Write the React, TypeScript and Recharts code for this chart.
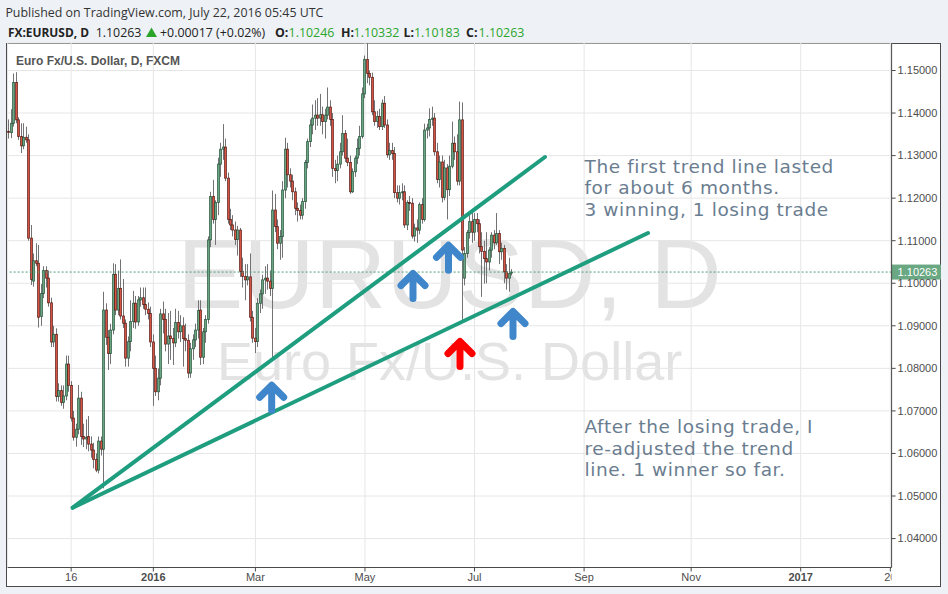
import React from "react";
import {
  ComposedChart,
  Bar,
  XAxis,
  YAxis,
  CartesianGrid,
  ReferenceLine,
  ReferenceDot,
} from "recharts";

// [open, high, low, close], one row per trading day
type Ohlc = [number, number, number, number];

const oct2015: Ohlc[] = [
  [1.1357, 1.1385, 1.134, 1.1355],
  [1.1354, 1.1409, 1.1341, 1.1376],
  [1.1376, 1.1493, 1.1368, 1.1472],
  [1.1472, 1.1496, 1.1376, 1.1384],
  [1.1384, 1.139, 1.1337, 1.1345],
  [1.1345, 1.1376, 1.1306, 1.1323],
  [1.1323, 1.1376, 1.1315, 1.1343],
  [1.1343, 1.1368, 1.133, 1.1337],
  [1.1337, 1.135, 1.11, 1.1106],
  [1.1106, 1.1137, 1.0996, 1.1009],
  [1.1005, 1.107, 1.0992, 1.1053],
  [1.1053, 1.1094, 1.104, 1.1047],
  [1.1047, 1.109, 1.0896, 1.092],
  [1.0922, 1.0998, 1.09, 1.0976],
  [1.0976, 1.104, 1.0965, 1.103],
];

const nov2015: Ohlc[] = [
  [1.103, 1.104, 1.099, 1.1012],
  [1.1012, 1.103, 1.0945, 1.0954],
  [1.0954, 1.0966, 1.085, 1.0862],
  [1.0862, 1.09, 1.085, 1.088],
  [1.088, 1.0894, 1.0722, 1.0734],
  [1.0734, 1.0765, 1.0722, 1.0748],
  [1.0748, 1.076, 1.0712, 1.072],
  [1.072, 1.076, 1.0705, 1.0735],
  [1.0735, 1.083, 1.0725, 1.081],
  [1.081, 1.083, 1.0745, 1.076],
  [1.076, 1.077, 1.0675, 1.0683],
  [1.0683, 1.07, 1.063, 1.0638],
  [1.0638, 1.067, 1.0616, 1.0657],
  [1.0657, 1.0761, 1.0645, 1.073],
  [1.073, 1.0745, 1.062, 1.064],
  [1.064, 1.067, 1.0615, 1.0634],
  [1.0634, 1.068, 1.061, 1.0638],
  [1.064, 1.0688, 1.0605, 1.0622],
  [1.0622, 1.064, 1.059, 1.0608],
  [1.0608, 1.0625, 1.0565, 1.0586],
  [1.0586, 1.06, 1.0556, 1.0561],
];

const dec2015: Ohlc[] = [
  [1.0561, 1.064, 1.0553, 1.0629],
  [1.0629, 1.064, 1.0595, 1.061],
  [1.061, 1.098, 1.0518, 1.0937],
  [1.0937, 1.0953, 1.0855, 1.0873],
  [1.0873, 1.089, 1.0796, 1.0835],
  [1.0835, 1.0905, 1.081, 1.089],
  [1.089, 1.1047, 1.088, 1.1021],
  [1.1021, 1.1045, 1.0925, 1.0937],
  [1.0937, 1.103, 1.0925, 1.0988],
  [1.0988, 1.1056, 1.0915, 1.0923],
  [1.0923, 1.101, 1.0895, 1.0906],
  [1.0906, 1.0915, 1.0804, 1.0824],
  [1.0824, 1.0875, 1.0804, 1.0863],
  [1.0863, 1.096, 1.084, 1.091],
  [1.091, 1.0982, 1.0895, 1.0953],
  [1.0953, 1.097, 1.0893, 1.0909],
  [1.0909, 1.097, 1.09, 1.0961],
  [1.0961, 1.099, 1.0945, 1.0966],
  [1.0966, 1.099, 1.094, 1.095],
  [1.095, 1.099, 1.0925, 1.0939],
  [1.0939, 1.0955, 1.0915, 1.0929],
  [1.0929, 1.0945, 1.085, 1.0862],
];

const jan2016: Ohlc[] = [
  [1.0862, 1.088, 1.0712, 1.08],
  [1.08, 1.083, 1.0735, 1.0745],
  [1.0745, 1.08, 1.0725, 1.0777],
  [1.0777, 1.094, 1.076, 1.0928],
  [1.0928, 1.0957, 1.0882, 1.0915],
  [1.0915, 1.094, 1.084, 1.0857],
  [1.0857, 1.093, 1.081, 1.0876],
  [1.0876, 1.0935, 1.082, 1.087],
  [1.087, 1.0895, 1.0808, 1.086],
  [1.086, 1.094, 1.085, 1.0908],
  [1.0908, 1.0935, 1.087, 1.0886],
  [1.0886, 1.0925, 1.0862, 1.09],
  [1.09, 1.092, 1.0804, 1.087],
  [1.087, 1.0905, 1.084, 1.0866],
  [1.0866, 1.088, 1.0777, 1.0789],
  [1.0789, 1.086, 1.0778, 1.0846],
  [1.0846, 1.088, 1.082, 1.0867],
  [1.0867, 1.0905, 1.085, 1.089],
  [1.089, 1.096, 1.087, 1.0936],
  [1.0937, 1.096, 1.0808, 1.0826],
];

const feb2016: Ohlc[] = [
  [1.0826, 1.0895, 1.081, 1.0886],
  [1.0886, 1.0925, 1.086, 1.0915],
  [1.0915, 1.111, 1.0905, 1.1102],
  [1.1102, 1.1215, 1.1085, 1.1204],
  [1.1204, 1.1243, 1.114, 1.115],
  [1.115, 1.1195, 1.109, 1.119],
  [1.119, 1.1295, 1.116, 1.128],
  [1.128, 1.133, 1.125, 1.1315],
  [1.1315, 1.1374, 1.129, 1.132],
  [1.132, 1.134, 1.124, 1.1247],
  [1.1247, 1.126, 1.114, 1.115],
  [1.115, 1.1175, 1.1125, 1.1137],
  [1.1137, 1.116, 1.111, 1.1125],
  [1.1125, 1.1145, 1.109, 1.1103],
  [1.1103, 1.1135, 1.1065, 1.1125],
  [1.1125, 1.113, 1.1015, 1.1028],
  [1.1028, 1.106, 1.099, 1.1016],
  [1.1016, 1.1045, 1.096, 1.1008],
  [1.1008, 1.1045, 1.0995, 1.1015],
  [1.1015, 1.107, 1.091, 1.092],
  [1.092, 1.0935, 1.086, 1.0871],
];

const mar2016: Ohlc[] = [
  [1.0871, 1.0895, 1.0836, 1.0863],
  [1.0863, 1.0965, 1.085, 1.0953],
  [1.0953, 1.0985, 1.093, 1.0975],
  [1.0975, 1.102, 1.094, 1.1008],
  [1.1008, 1.104, 1.0975, 1.1012],
  [1.1012, 1.1045, 1.0985, 1.1005],
  [1.1005, 1.103, 1.097, 1.0988],
  [1.0988, 1.1218, 1.0822, 1.1172],
  [1.1172, 1.121, 1.112, 1.1133],
  [1.1133, 1.115, 1.108, 1.1094],
  [1.1094, 1.1125, 1.1055, 1.111],
  [1.111, 1.124, 1.106, 1.1219],
  [1.1219, 1.1342, 1.12, 1.1315],
  [1.1315, 1.133, 1.1225, 1.1255],
  [1.1255, 1.127, 1.1225, 1.124],
  [1.124, 1.1255, 1.1195, 1.1215],
  [1.1215, 1.1225, 1.116, 1.1176],
  [1.1176, 1.119, 1.1145, 1.1171],
  [1.1171, 1.1185, 1.115, 1.116],
  [1.116, 1.12, 1.115, 1.1192],
  [1.1192, 1.129, 1.1175, 1.1284],
  [1.1284, 1.134, 1.127, 1.1333],
  [1.1333, 1.1385, 1.132, 1.1372],
];

const apr2016: Ohlc[] = [
  [1.1372, 1.142, 1.135, 1.1388],
  [1.1388, 1.143, 1.136, 1.1395],
  [1.1395, 1.1435, 1.137, 1.1388],
  [1.1388, 1.1445, 1.137, 1.1396],
  [1.1396, 1.1415, 1.135, 1.138],
  [1.138, 1.141, 1.134, 1.1395],
  [1.1395, 1.146, 1.1385, 1.1414],
  [1.1414, 1.143, 1.137, 1.1385],
  [1.1385, 1.14, 1.125, 1.127],
  [1.127, 1.129, 1.1235, 1.1265],
  [1.1265, 1.13, 1.124, 1.128],
  [1.128, 1.133, 1.127, 1.1309],
  [1.1309, 1.1395, 1.13, 1.1352],
  [1.1352, 1.136, 1.1285, 1.1294],
  [1.1294, 1.134, 1.1275, 1.1284],
  [1.1284, 1.13, 1.121, 1.1215],
  [1.1215, 1.127, 1.1212, 1.1262],
  [1.1262, 1.13, 1.125, 1.1294],
  [1.1294, 1.134, 1.128, 1.1317],
  [1.1317, 1.137, 1.13, 1.1345],
  [1.1345, 1.146, 1.134, 1.1445],
];

const may2016: Ohlc[] = [
  [1.1445, 1.1535, 1.1435, 1.1526],
  [1.1526, 1.1616, 1.147, 1.1493],
  [1.1493, 1.15, 1.1465, 1.1484],
  [1.1484, 1.1495, 1.1395, 1.1403],
  [1.1403, 1.143, 1.137, 1.138],
  [1.138, 1.1405, 1.1365, 1.1392],
  [1.1392, 1.141, 1.136, 1.1368],
  [1.1368, 1.1432, 1.136, 1.1423],
  [1.1423, 1.144, 1.1365, 1.1372],
  [1.1372, 1.1385, 1.1295, 1.1302],
  [1.1302, 1.133, 1.129, 1.1312],
  [1.1312, 1.133, 1.129, 1.1305],
  [1.1305, 1.132, 1.12, 1.1213],
  [1.1213, 1.123, 1.119, 1.12],
  [1.12, 1.123, 1.1185, 1.1213],
  [1.1213, 1.1235, 1.1195, 1.1215],
  [1.1215, 1.123, 1.113, 1.1137],
  [1.1137, 1.1195, 1.1125, 1.119],
  [1.119, 1.1205, 1.117, 1.1188],
  [1.1188, 1.12, 1.1105, 1.1111],
  [1.1111, 1.114, 1.1098, 1.113],
  [1.113, 1.115, 1.1095, 1.1125],
];

const jun2016: Ohlc[] = [
  [1.1125, 1.119, 1.1115, 1.1185],
  [1.1185, 1.12, 1.114, 1.115],
  [1.115, 1.1375, 1.1145, 1.136],
  [1.136, 1.1375, 1.134, 1.1365],
  [1.1365, 1.1411, 1.1345, 1.1385],
  [1.1385, 1.1415, 1.137, 1.1388],
  [1.1388, 1.14, 1.13, 1.1309],
  [1.1309, 1.133, 1.1235, 1.1244],
  [1.1244, 1.13, 1.1225, 1.1285],
  [1.1285, 1.13, 1.119, 1.1202],
  [1.1202, 1.129, 1.1195, 1.1271],
  [1.1271, 1.128, 1.115, 1.122],
  [1.122, 1.13, 1.1205, 1.1275],
  [1.1275, 1.138, 1.127, 1.1329],
  [1.1329, 1.1345, 1.129, 1.1309],
  [1.1309, 1.135, 1.123, 1.124],
  [1.124, 1.1427, 1.123, 1.1384],
  [1.1384, 1.1425, 1.0912, 1.1078],
  [1.1012, 1.1085, 1.0995, 1.107],
  [1.107, 1.1125, 1.106, 1.1119],
  [1.1119, 1.116, 1.1105, 1.1145],
  [1.1145, 1.1165, 1.1095, 1.112],
];

const jul2016: Ohlc[] = [
  [1.112, 1.1165, 1.11, 1.115],
  [1.115, 1.1165, 1.112, 1.114],
  [1.114, 1.115, 1.107, 1.1086],
  [1.1086, 1.112, 1.0968, 1.1075],
  [1.1075, 1.11, 1.0999, 1.1058],
  [1.1058, 1.112, 1.1, 1.105],
  [1.105, 1.1085, 1.103, 1.1078],
  [1.1078, 1.112, 1.106, 1.1113],
  [1.1113, 1.1125, 1.108, 1.1095],
  [1.1095, 1.1165, 1.109, 1.1117],
  [1.1117, 1.1125, 1.1045, 1.1074],
  [1.1074, 1.1095, 1.1055, 1.1082],
  [1.1082, 1.109, 1.1, 1.1027],
  [1.1027, 1.1045, 1.0985, 1.1012],
  [1.1012, 1.106, 1.098, 1.1023],
  [1.10246, 1.10332, 1.10183, 1.10263],
];

const candles: Ohlc[] = [
  ...oct2015, ...nov2015, ...dec2015, ...jan2016, ...feb2016,
  ...mar2016, ...apr2016, ...may2016, ...jun2016, ...jul2016,
];

// trading-day slots on the time scale, the rest is empty future space
const SLOTS = 355;

const tickIdx = [25, 58, 99, 143, 187, 231, 274, 318, 354];
const tickLabels = ["16", "2016", "Mar", "May", "Jul", "Sep", "Nov", "2017", "20"];
const boldLabels = ["2016", "2017"];

const priceTicks = [1.04, 1.05, 1.06, 1.07, 1.08, 1.09, 1.1, 1.11, 1.12, 1.13, 1.14, 1.15];
const priceDomain = [1.0332, 1.15646];
const lastPrice = 1.10263;

// drawings: bar position (fractional) + price
const trendStart = { idx: 25.62, price: 1.04725 };
const trendEnds = [
  { idx: 215.3, price: 1.12967 },
  { idx: 256.67, price: 1.11181 },
];
const arrows = [
  { idx: 105.54, price: 1.07686, color: "#3f86cb" },
  { idx: 162.29, price: 1.10311, color: "#3f86cb" },
  { idx: 176.55, price: 1.10976, color: "#3f86cb" },
  { idx: 202.45, price: 1.09418, color: "#3f86cb" },
  { idx: 181.16, price: 1.08713, color: "#ff0000" },
];

const note1 = ["The first trend line lasted", "for about 6 months.", "3 winning, 1 losing trade"];
const note2 = ["After the losing trade, I", "re-adjusted the trend", "line. 1 winner so far."];

const rows = Array.from({ length: SLOTS }, (_, i) => {
  const c = candles[i];
  return c ? { idx: i, open: c[0], high: c[1], low: c[2], close: c[3] } : { idx: i };
});

const UP = "#6ba583";
const DOWN = "#d75442";
const UP_BORDER = "#225437";
const DOWN_BORDER = "#5b1a13";
const TEAL = "#1f9d7f";
const AXIS_TEXT = "#4d4d4d";
const HEAD_GREEN = "#2aa52a";

function Candle(props: any) {
  const { x, y, width, height, payload } = props;
  if (!payload || payload.high == null || !isFinite(y) || !isFinite(height)) return <g />;
  const { open, high, low, close } = payload;
  const span = high - low;
  const ppu = span > 0 ? height / span : 0;
  const cx = Math.round(x + width / 2 - 0.5) + 0.5;
  const yO = y + (high - open) * ppu;
  const yC = y + (high - close) * ppu;
  const up = close >= open;
  const top = Math.min(yO, yC);
  const bh = Math.max(Math.abs(yC - yO), 1);
  return (
    <g>
      <line x1={cx} x2={cx} y1={y} y2={y + height} stroke="#737375" strokeWidth={1} />
      <rect x={cx - 1.3} y={top - 0.4} width={2.6} height={bh + 0.8} fill={up ? UP_BORDER : DOWN_BORDER} />
      {bh > 1.2 && (
        <rect x={cx - 0.6} y={top + 0.4} width={1.2} height={bh - 0.8} fill={up ? UP : DOWN} />
      )}
    </g>
  );
}

function TimeTick(props: any) {
  const { x, y, payload } = props;
  const k = tickIdx.indexOf(Number(payload.value));
  if (k < 0) return <g />;
  const label = tickLabels[k];
  return (
    <g>
      <defs>
        <clipPath id={`tclip${k}`}>
          <rect x={0} y={0} width={891.6} height={594} />
        </clipPath>
      </defs>
      <text
        x={x}
        y={y}
        dy="0.71em"
        textAnchor="middle"
        fontSize={11}
        fontFamily="Arial, 'Liberation Sans', sans-serif"
        fontWeight={boldLabels.includes(label) ? 700 : 400}
        fill={AXIS_TEXT}
        clipPath={`url(#tclip${k})`}
      >
        {label}
      </text>
    </g>
  );
}

function PriceTag(props: any) {
  const vb = props.viewBox;
  if (!vb) return null;
  const x = vb.x + vb.width;
  return (
    <g>
      <rect x={x} y={vb.y - 7.5} width={49.4} height={15} fill="#6aa783" />
      <text x={x + 6} y={vb.y + 4} fill="#ffffff" fontSize={11} fontFamily="Arial, 'Liberation Sans', sans-serif">
        {lastPrice.toFixed(5)}
      </text>
    </g>
  );
}

function Arrow(props: any) {
  const { cx, cy, fill } = props;
  const ty = cy + 3.5;
  return (
    <path
      d={`M${cx - 12},${ty + 12} L${cx},${ty} L${cx + 12},${ty + 12} M${cx},${ty + 1} L${cx},${ty + 25}`}
      stroke={fill}
      strokeWidth={7}
      strokeLinecap="round"
      strokeLinejoin="round"
      fill="none"
    />
  );
}

function Note({ lines, y }: { lines: string[]; y: number }) {
  return (
    <g fontFamily="'DejaVu Sans', Verdana, sans-serif" fontSize={18.5} letterSpacing={0.6} fill="#6a7d90">
      {lines.map((t, k) => (
        <text key={k} x={584.5} y={y + k * 21.5}>
          {t}
        </text>
      ))}
    </g>
  );
}

export default function App() {
  return (
    <div style={{ position: "relative", width: 948, height: 594, background: "#eef2f6", overflow: "hidden" }}>
      <style>{`body{margin:0}`}</style>

      <svg width={948} height={594} style={{ position: "absolute", left: 0, top: 0 }}>
        <rect x={6.5} y={43.5} width={934} height={543} fill="#ffffff" stroke="#4a4a4a" strokeWidth={1} />
        <text x={449.6} y={308} textAnchor="middle" fontSize={99} fontFamily="Arial, 'Liberation Sans', sans-serif" fill="#e3e3e3">
          EURUSD, D
        </text>
        <text x={449.6} y={380} textAnchor="middle" fontSize={54} fontFamily="Arial, 'Liberation Sans', sans-serif" fill="#e3e3e3">
          Euro Fx/U.S. Dollar
        </text>
      </svg>

      <div style={{ position: "absolute", left: 0, top: 0 }}>
        <ComposedChart
          width={948}
          height={594}
          data={rows}
          margin={{ top: 43, right: 7, bottom: 6.5, left: 7.65 }}
        >
          <CartesianGrid stroke="#e6e6e6" strokeWidth={1} />
          <XAxis
            dataKey="idx"
            type="category"
            ticks={tickIdx}
            interval={0}
            height={20}
            tickSize={4}
            axisLine={{ stroke: "#4a4a4a" }}
            tickLine={{ stroke: "#4a4a4a" }}
            tick={<TimeTick />}
          />
          <XAxis xAxisId="n" dataKey="idx" type="number" domain={[-0.5, SLOTS - 0.5]} allowDataOverflow hide />
          <YAxis
            orientation="right"
            type="number"
            domain={priceDomain}
            allowDataOverflow
            ticks={priceTicks}
            interval={0}
            width={49.4}
            tickSize={4}
            axisLine={{ stroke: "#4a4a4a" }}
            tickLine={{ stroke: "#4a4a4a" }}
            tick={{ fill: AXIS_TEXT, fontSize: 11, fontFamily: "Arial, 'Liberation Sans', sans-serif" }}
            tickFormatter={(v: number) => v.toFixed(5)}
          />
          <ReferenceLine
            y={lastPrice}
            stroke="#4c9e76"
            strokeDasharray="2 2"
            strokeWidth={1}
            label={PriceTag}
          />
          <Bar
            dataKey={(d: any) => (d.high == null ? null : [d.low, d.high])}
            shape={Candle}
            isAnimationActive={false}
          />
          {trendEnds.map((e, k) => (
            <ReferenceLine
              key={k}
              xAxisId="n"
              segment={[
                { x: trendStart.idx, y: trendStart.price },
                { x: e.idx, y: e.price },
              ]}
              stroke={TEAL}
              strokeWidth={4}
              strokeLinecap="round"
              ifOverflow="visible"
            />
          ))}
          {arrows.map((a, k) => (
            <ReferenceDot
              key={k}
              xAxisId="n"
              x={a.idx}
              y={a.price}
              r={4}
              fill={a.color}
              ifOverflow="visible"
              shape={Arrow}
            />
          ))}
        </ComposedChart>
      </div>

      <svg width={948} height={594} style={{ position: "absolute", left: 0, top: 0, pointerEvents: "none" }}>
        <g fontFamily="'Open Sans', sans-serif" fontSize={12.4}>
          <text x={5.4} y={17} fill="#333333">
            Published on TradingView.com, July 22, 2016 05:45 UTC
          </text>
          <text x={8} y={37} fill="#222222" fontWeight={700} textLength={81} lengthAdjust="spacingAndGlyphs">
            FX:EURUSD, D
          </text>
          <text x={95.7} y={37} fill="#222222">1.10263</text>
          <polygon points="146,37 157,37 151.5,27.5" fill={HEAD_GREEN} />
          <text x={160} y={37} fill="#222222">+0.00017 (+0.02%)</text>
          <text x={275} y={37} fill="#222222" fontWeight={700}>O:</text>
          <text x={288.6} y={37} fill={HEAD_GREEN}>1.10246</text>
          <text x={341} y={37} fill="#222222" fontWeight={700}>H:</text>
          <text x={353.6} y={37} fill={HEAD_GREEN}>1.10332</text>
          <text x={403.6} y={37} fill="#222222" fontWeight={700}>L:</text>
          <text x={414} y={37} fill={HEAD_GREEN}>1.10183</text>
          <text x={466} y={37} fill="#222222" fontWeight={700}>C:</text>
          <text x={478.6} y={37} fill={HEAD_GREEN}>1.10263</text>
        </g>
        <text x={16} y={65} fontFamily="Arial, 'Liberation Sans', sans-serif" fontSize={12} fontWeight={700} fill="#555555">
          Euro Fx/U.S. Dollar, D, FXCM
        </text>
        <Note lines={note1} y={172.5} />
        <Note lines={note2} y={433} />
      </svg>
    </div>
  );
}
